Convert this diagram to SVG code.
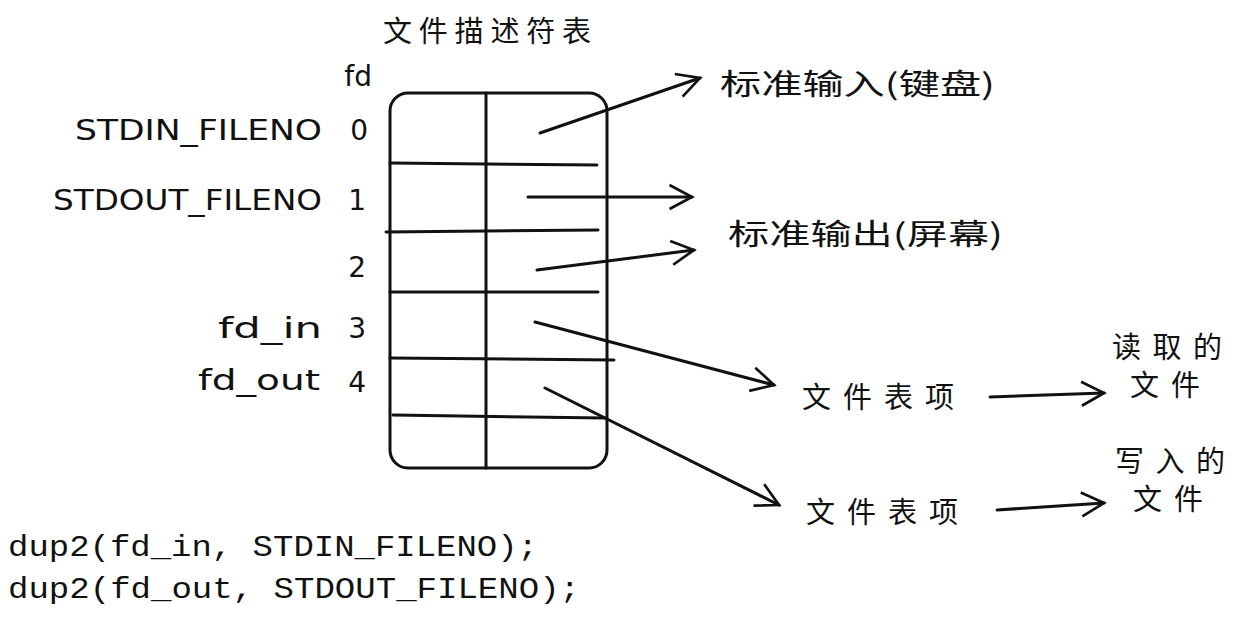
<svg xmlns="http://www.w3.org/2000/svg" width="1250" height="620" viewBox="0 0 1250 620">
<defs>
<style>
.t{font-family:"Noto Sans CJK SC","DejaVu Sans",sans-serif;font-size:29px;fill:#111}
.e{font-family:"DejaVu Sans","Noto Sans CJK SC",sans-serif;font-size:28px;fill:#111;text-anchor:end}
.m{font-family:"Liberation Mono","Noto Sans CJK SC",monospace;font-size:30px;fill:#111}
.l{stroke:#111;stroke-width:3;fill:none;stroke-linecap:round}
</style>
<marker id="a" viewBox="0 0 20 20" refX="18" refY="10" markerWidth="30" markerHeight="30" markerUnits="userSpaceOnUse" orient="auto"><polyline points="3,2 18,10 3,18" fill="none" stroke="#111" stroke-width="1.8"/></marker>
</defs>
<rect width="1250" height="620" fill="#fff"/>
<text class="t" x="383" y="42" textLength="208">文件描述符表</text>
<g id="table">
<rect class="l" x="390" y="93" width="217" height="375" rx="18"/>
<line class="l" x1="486" y1="93" x2="486" y2="468"/>
<line class="l" x1="390" y1="163" x2="597" y2="165"/>
<line class="l" x1="386" y1="232" x2="598" y2="230"/>
<line class="l" x1="390" y1="292" x2="598" y2="292"/>
<line class="l" x1="390" y1="358" x2="614" y2="360"/>
<line class="l" x1="393" y1="415" x2="605" y2="418"/>
</g>
<g id="labels">
<text class="e" x="372" y="86">fd</text>
<text class="e" x="322" y="140" textLength="247" lengthAdjust="spacingAndGlyphs">STDIN_FILENO</text><text class="e" x="368" y="140">0</text>
<text class="e" x="322" y="210" textLength="269" lengthAdjust="spacingAndGlyphs">STDOUT_FILENO</text><text class="e" x="366" y="210">1</text>
<text class="e" x="366" y="277">2</text>
<text class="e" x="322" y="338" textLength="104" lengthAdjust="spacingAndGlyphs">fd_in</text><text class="e" x="366" y="338">3</text>
<text class="e" x="320" y="390" textLength="122" lengthAdjust="spacingAndGlyphs">fd_out</text><text class="e" x="366" y="392">4</text>
</g>
<g id="connectors">
<line class="l" x1="540" y1="133" x2="700" y2="78" marker-end="url(#a)"/>
<line class="l" x1="528" y1="197" x2="692" y2="197" marker-end="url(#a)"/>
<line class="l" x1="537" y1="270" x2="694" y2="250" marker-end="url(#a)"/>
<line class="l" x1="535" y1="322" x2="774" y2="385" marker-end="url(#a)"/>
<line class="l" x1="545" y1="388" x2="779" y2="505" marker-end="url(#a)"/>
<line class="l" x1="990" y1="397" x2="1104" y2="393" marker-end="url(#a)"/>
<line class="l" x1="997" y1="510" x2="1104" y2="503" marker-end="url(#a)"/>
</g>
<g id="right">
<text class="t" x="720" y="95" textLength="275" lengthAdjust="spacingAndGlyphs">标准输入(键盘)</text>
<text class="t" x="728" y="245" textLength="275" lengthAdjust="spacingAndGlyphs">标准输出(屏幕)</text>
<text class="t" x="802" y="408" textLength="152">文件表项</text>
<text class="t" x="806" y="523" textLength="152">文件表项</text>
<text class="t" x="1112" y="358" textLength="110">读取的</text>
<text class="t" x="1130" y="396" textLength="70">文件</text>
<text class="t" x="1115" y="472" textLength="110">写入的</text>
<text class="t" x="1133" y="510" textLength="70">文件</text>
</g>
<text class="m" x="8" y="556" textLength="530" lengthAdjust="spacingAndGlyphs">dup2(fd_in, STDIN_FILENO);</text>
<text class="m" x="8" y="598" textLength="572" lengthAdjust="spacingAndGlyphs">dup2(fd_out, STDOUT_FILENO);</text>
</svg>
